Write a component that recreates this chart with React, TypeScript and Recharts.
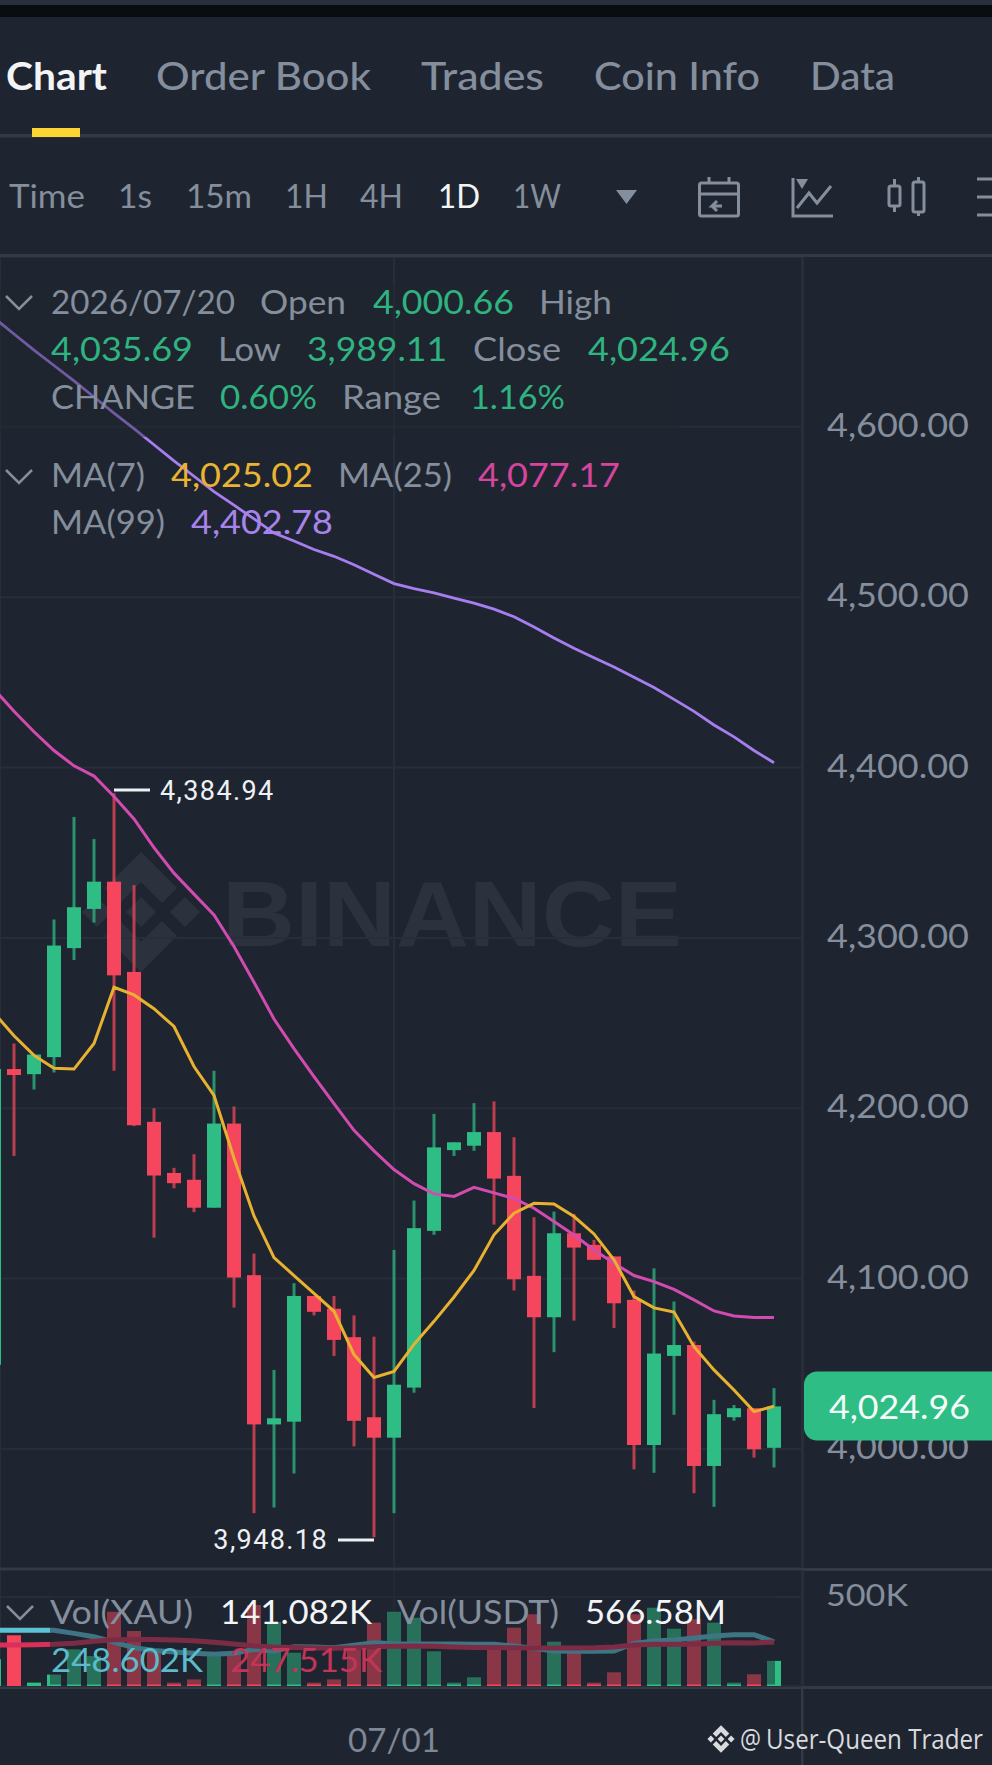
import React from "react";
import { ComposedChart, Bar, Line, XAxis, YAxis, CartesianGrid, ReferenceLine, Cell } from "recharts";

const opens = [4049.4,4223,4220,4230,4294,4317,4333,4280,4192,4162,4158,4141.6,4191,4102,4014.4,4016,4089.8,4082.3,4065.6,4018.6,4006.6,4036,4128,4175.4,4178,4186,4160.3,4101.6,4077.3,4126.6,4119.8,4113,4087.5,4002.3,4054.6,4061,3990,4018.6,4023.9,4000.66];
const highs = [4223,4238,4231.5,4310.8,4371,4358,4384.94,4331,4200,4165,4173,4222,4201,4114.7,4046.4,4097.3,4089.8,4089.8,4078.4,4065.9,4116.8,4145.8,4196.7,4180,4203,4204,4183,4136,4139.3,4138,4122.7,4113,4093,4106,4086.5,4063,4028.8,4025.8,4023.9,4035.69];
const lows = [4049.4,4172,4211,4221,4287,4309,4222,4189.5,4124,4153,4139,4141.6,4083,3962.3,3965.6,3985.6,4078.4,4054.5,4001.5,3948.18,3962.3,4033,4125.7,4172,4175,4131.7,4093,4024,4056.8,4075.3,4111,4071,3988,3986,4020,3974,3966,4016.6,3994.9,3989.11];
const closes = [4223,4219.5,4231.5,4295.5,4318,4333,4278,4190,4160.5,4156,4141.6,4191,4100.6,4014.4,4018,4089.8,4080.5,4064,4016.5,4006.6,4037.7,4129.6,4177,4180,4186,4158.7,4099.6,4077.3,4126.6,4118.2,4111,4085.5,4002.3,4056,4061,3990,4020.4,4023.9,3999.8,4024.96];
const ma7 = [4256,4242.5,4231,4223.4,4223,4238,4271,4266.5,4258.4,4248,4224.5,4207.5,4170.7,4136.8,4112.3,4101.8,4091.3,4080.8,4055.4,4041.9,4045.5,4061.4,4074.9,4089.2,4104.8,4125.7,4138.4,4144.2,4143.8,4136.4,4126.2,4111,4089.4,4082.8,4080.4,4060,4046.4,4034.6,4021.9,4025.02];
const ma25 = [4446,4433,4421,4410,4401,4395,4383,4369.8,4353,4338,4325.7,4313.5,4295,4274,4252.4,4235,4218.6,4202.7,4187,4175,4164,4155.7,4149.7,4148.2,4153.6,4150.3,4147,4141.3,4133.5,4125.6,4116.8,4109,4101.8,4098.2,4093.7,4087.5,4081,4078,4077.1,4077.17];
const ma99 = [4664,4654.5,4645,4636,4627,4617.5,4608,4599,4589.5,4580,4571,4562,4554,4546,4537.6,4533,4528,4524,4519,4513.5,4508,4505,4502.5,4499.5,4496.5,4493,4488.5,4482.5,4476,4470,4464.5,4459,4453,4447,4440,4433,4425,4418,4410,4402.78];
const volumes = [150,285,19,64,206,168,418,309,206,19,37,168,187,455,360,187,19,37,206,356,418,384,195,19,49,206,328,403,249,187,19,77,403,440,322,375,356,19,66,141.082];
const volMa7 = [314.6,312.7,312.7,312.7,295.9,277.2,247,215,200,191,183.5,178,183.5,206,196.6,221,219,215,228.5,243.4,237.8,236,236,236,234,234,224.7,211.6,196.6,194.8,194.8,196.6,239.7,252.8,258.4,269.7,280.9,288.4,288.4,248.6];
const volMa25 = [230.3,230.3,232,234,239.7,251,260.3,262,262,258.4,254.7,245.3,236,224.7,219,217,213.5,211.6,215,221,222.8,224.7,222.8,219,217,217,215,213.5,213.5,213.5,215,219,230.3,234,234,234,239.7,243.4,241.6,247.515];
const priceTicks = [4000,4100,4200,4300,4400,4500,4600];
const volTicks = [500];
const dateTicks = [20];
const dateLabels = ["07/01"];

const GREEN = "#2ebd85";
const RED = "#f6465d";
const BG = "#1f2530";
const GRID = "#282e39";
const LINE = "#333a46";
const GRAY = "#848e9c";
const TXTGREEN = "#2fb380";

const priceData = opens.map((o, i) => ({ i, o, c: closes[i], h: highs[i], l: lows[i], range: [lows[i], highs[i]], ma7: ma7[i], ma25: ma25[i], ma99: ma99[i] }));
const volData = volumes.map((v, i) => ({ i, v, up: closes[i] >= opens[i], m7: volMa7[i], m25: volMa25[i] }));
const FONT = "Lato, sans-serif";

function Candle(props: any) {
  const { x, y, width, height, payload } = props;
  const top = Math.min(y, y + height);
  const h = Math.abs(height);
  const span = payload.h - payload.l;
  const up = payload.c >= payload.o;
  const color = up ? GREEN : RED;
  const bt = top + ((payload.h - Math.max(payload.o, payload.c)) / span) * h;
  const bb = top + ((payload.h - Math.min(payload.o, payload.c)) / span) * h;
  return (
    <g>
      <rect x={x + width / 2 - 1.5} y={top} width={3} height={h} fill={color} opacity={0.72} />
      <rect x={x} y={bt} width={width} height={Math.max(bb - bt, 2)} fill={color} />
    </g>
  );
}

function T({ x, y, w, c = GRAY, s = 33, t, fw = 400, f = FONT }: any) {
  return (
    <text x={x} y={y - 1} textLength={w} lengthAdjust="spacingAndGlyphs" dominantBaseline="central" fontFamily={f} fontSize={s} fontWeight={fw} fill={c}>
      {t}
    </text>
  );
}

function PriceTick(props: any) {
  const { y, payload } = props;
  const txt = payload.value.toLocaleString("en-US", { minimumFractionDigits: 2 });
  return <T x={827} y={y - 2} w={142} t={txt} s={33} />;
}

function VolTick(props: any) {
  const { y, payload } = props;
  return <T x={826} y={y - 2} w={82} t={`${payload.value}K`} s={31} />;
}

function DateTick(props: any) {
  const { x, payload } = props;
  return <T x={x - 46} y={1740 - 1570} w={92} t={dateLabels[dateTicks.indexOf(payload.value)]} s={32} c="#7f8896" />;
}

function Badge(props: any) {
  const { viewBox } = props;
  const cy = viewBox.y;
  return (
    <g>
      <rect x={804} y={cy - 35} width={200} height={69} rx={13} fill={GREEN} />
      <T x={829} y={cy} w={141} t="4,024.96" c="#f4fbf8" s={33} />
    </g>
  );
}

function Chevron({ x, y }: any) {
  return <polyline points={`${x},${y} ${x + 13},${y + 13} ${x + 26},${y}`} fill="none" stroke={GRAY} strokeWidth={2.5} />;
}

function Diamond({ cx, cy, r, fill }: any) {
  return <polygon points={`${cx - r},${cy} ${cx},${cy - r} ${cx + r},${cy} ${cx},${cy + r}`} fill={fill} />;
}

function Logo({ cx, cy, k, fill }: any) {
  const p = (a: number[]) => a.map((v, i) => (i % 2 ? cy + v * k : cx + v * k)).join(" ");
  return (
    <g fill={fill}>
      <polygon points={p([0, -60, 36, -24, 21, -9, 0, -30, -21, -9, -36, -24])} />
      <polygon points={p([0, 60, 36, 24, 21, 9, 0, 30, -21, 9, -36, 24])} />
      <Diamond cx={cx} cy={cy} r={15 * k} fill={fill} />
      <Diamond cx={cx - 44 * k} cy={cy} r={15 * k} fill={fill} />
      <Diamond cx={cx + 44 * k} cy={cy} r={15 * k} fill={fill} />
    </g>
  );
}

const annotationStyle = { letterSpacing: 1.4 };

export default function App() {
  return (
    <div style={{ position: "absolute", left: 0, top: 0, width: 992, height: 1765, overflow: "hidden", background: BG }}>
      {/* background layer */}
      <svg width={992} height={1765} style={{ position: "absolute", left: 0, top: 0 }}>
        <rect x={0} y={0} width={992} height={5} fill="#2a303b" />
        <rect x={0} y={5} width={992} height={12} fill="#0a0d10" />
        <rect x={0} y={134} width={992} height={3.5} fill={LINE} />
        <rect x={0} y={254} width={992} height={3} fill={LINE} />
        <rect x={0} y={1568} width={992} height={3} fill={LINE} />
        <rect x={0} y={1686} width={992} height={3} fill={LINE} />
        <rect x={801} y={257} width={2.5} height={1508} fill={LINE} />
        <Logo cx={141} cy={912} k={1} fill="#2c323d" />
        <text x={222} y={946} textLength={460} lengthAdjust="spacingAndGlyphs" fontFamily="Liberation Sans" fontWeight={700} fontSize={92} fill="#2c323d">BINANCE</text>
      </svg>

      {/* price pane */}
      <div style={{ position: "absolute", left: 0, top: 257 }}>
        <ComposedChart width={992} height={1311} data={priceData} margin={{ top: 0, right: 0, bottom: 0, left: 0 }}>
          <CartesianGrid stroke={GRID} strokeWidth={2} horizontal vertical />
          <XAxis dataKey="i" type="number" domain={[0.3, 40.4]} allowDataOverflow ticks={dateTicks} hide />
          <YAxis orientation="right" width={190} type="number" domain={[3930.1, 4699.7]} allowDataOverflow ticks={priceTicks} axisLine={false} tickLine={false} tick={PriceTick} />
          <Bar dataKey="range" barSize={14} shape={Candle} isAnimationActive={false} />
          <Line dataKey="ma99" stroke="#a67ef0" strokeWidth={2.8} dot={false} isAnimationActive={false} />
          <Line dataKey="ma25" stroke="#d24bb0" strokeWidth={3} dot={false} isAnimationActive={false} />
          <Line dataKey="ma7" stroke="#e8b230" strokeWidth={3} dot={false} isAnimationActive={false} />
          <ReferenceLine segment={[{ x: 6, y: 4386.8 }, { x: 7.8, y: 4386.8 }]} stroke="#eef0f3" strokeWidth={3} label={{ value: "4,384.94", position: "right", offset: 10, fill: "#eef0f3", fontSize: 27, fontFamily: "Roboto", style: annotationStyle }} />
          <ReferenceLine segment={[{ x: 17.2, y: 3946.6 }, { x: 19, y: 3946.6 }]} stroke="#eef0f3" strokeWidth={3} label={{ value: "3,948.18", position: "left", offset: 10, fill: "#eef0f3", fontSize: 27, fontFamily: "Roboto", style: annotationStyle }} />
        </ComposedChart>
      </div>

      {/* volume pane */}
      <div style={{ position: "absolute", left: 0, top: 1570 }}>
        <ComposedChart width={992} height={195} data={volData} margin={{ top: 0, right: 0, bottom: 0, left: 0 }}>
          <CartesianGrid stroke={GRID} strokeWidth={2} horizontal vertical />
          <XAxis dataKey="i" type="number" domain={[0.3, 40.4]} allowDataOverflow ticks={dateTicks} height={79} axisLine={false} tickLine={false} tick={DateTick} />
          <YAxis orientation="right" width={190} type="number" domain={[0, 652]} ticks={volTicks} axisLine={false} tickLine={false} tick={VolTick} />
          <Bar dataKey="v" barSize={14} isAnimationActive={false}>
            {volData.map((d) => (
              <Cell key={d.i} fill={d.up ? GREEN : RED} />
            ))}
          </Bar>
          <Line dataKey="m7" stroke="#5cc3d6" strokeWidth={5} dot={false} isAnimationActive={false} />
          <Line dataKey="m25" stroke="#d9305a" strokeWidth={5} dot={false} isAnimationActive={false} />
        </ComposedChart>
      </div>

      {/* foreground layer */}
      <svg width={992} height={1765} style={{ position: "absolute", left: 0, top: 0 }}>
        <rect x={0} y={285} width={680} height={152} fill={BG} opacity={0.4} />
        <rect x={50} y={1572} width={725} height={112.5} fill={BG} opacity={0.5} />

        {/* tabs */}
        <T x={6} y={76} w={101} t="Chart" c="#f2f4f6" s={38} fw={700} />
        <T x={156} y={76} w={215} t="Order Book" s={38} fw={500} />
        <T x={421} y={76} w={123} t="Trades" s={38} fw={500} />
        <T x={594} y={76} w={166} t="Coin Info" s={38} fw={500} />
        <T x={810} y={76} w={85} t="Data" s={38} fw={500} />
        <rect x={32} y={128} width={48} height={9} fill="#fcd535" />

        {/* intervals */}
        <T x={9} y={196} w={76} t="Time" />
        <T x={118} y={196} w={34} t="1s" />
        <T x={186} y={196} w={66} t="15m" />
        <T x={285} y={196} w={43} t="1H" />
        <T x={360} y={196} w={43} t="4H" />
        <T x={438} y={196} w={42} t="1D" c="#f2f4f6" />
        <T x={513} y={196} w={48} t="1W" />
        <polygon points="616,190 637,190 626.5,204" fill={GRAY} />
        <polygon points="796,179 808,179 802,189" fill={GRAY} />
        <g fill="none" stroke={GRAY} strokeWidth={3}>
          <rect x={699.5} y={183} width={39} height={33} rx={2} />
          <line x1={699} y1={194} x2={739} y2={194} />
          <line x1={709} y1={177} x2={709} y2={184} />
          <line x1={729} y1={177} x2={729} y2={184} />
          <polyline points="722,206 712,206 717,201 712,206 717,211" />
          <polyline points="793,178 793,216 833,216" />
          <polyline points="797,208 809,193 817,203 831,186" />
          <rect x={889} y={186} width={11} height={20} rx={2} />
          <rect x={913} y={182} width={11} height={30} rx={2} />
          <line x1={894.5} y1={179} x2={894.5} y2={186} />
          <line x1={894.5} y1={206} x2={894.5} y2={212} />
          <line x1={918.5} y1={177} x2={918.5} y2={182} />
          <line x1={918.5} y1={212} x2={918.5} y2={216} />
          <line x1={977} y1={179} x2={992} y2={179} />
          <line x1={977} y1={197} x2={992} y2={197} />
          <line x1={977} y1={215} x2={992} y2={215} />
        </g>

        {/* OHLC legend */}
        <Chevron x={6} y={296} />
        <T x={51} y={302} w={184} t="2026/07/20" />
        <T x={260} y={302} w={86} t="Open" />
        <T x={373} y={302} w={141} t="4,000.66" c={TXTGREEN} />
        <T x={539} y={302} w={73} t="High" />
        <T x={51} y={349} w={142} t="4,035.69" c={TXTGREEN} />
        <T x={218} y={349} w={63} t="Low" />
        <T x={307} y={349} w={140} t="3,989.11" c={TXTGREEN} />
        <T x={473} y={349} w={88} t="Close" />
        <T x={588} y={349} w={142} t="4,024.96" c={TXTGREEN} />
        <T x={51} y={397} w={144} t="CHANGE" />
        <T x={220} y={397} w={97} t="0.60%" c={TXTGREEN} />
        <T x={342} y={397} w={99} t="Range" />
        <T x={470} y={397} w={95} t="1.16%" c={TXTGREEN} />
        <Chevron x={6} y={470} />
        <T x={51} y={475} w={94} t="MA(7)" />
        <T x={171} y={475} w={142} t="4,025.02" c="#e9b432" />
        <T x={338} y={475} w={114} t="MA(25)" />
        <T x={478} y={475} w={142} t="4,077.17" c="#d5459f" />
        <T x={51} y={522} w={114} t="MA(99)" />
        <T x={191} y={522} w={142} t="4,402.78" c="#a784ea" />

        {/* badge */}
        <Badge viewBox={{ y: 1406.5 }} />

        {/* volume legend */}
        <Chevron x={7} y={1606} />
        <T x={50} y={1612} w={143} t="Vol(XAU)" s={32} />
        <T x={220} y={1612} w={152} t="141.082K" s={32} c="#f2f4f6" />
        <T x={397} y={1612} w={162} t="Vol(USDT)" s={32} />
        <T x={585} y={1612} w={141} t="566.58M" s={32} c="#f2f4f6" />
        <T x={51} y={1660} w={152} t="248.602K" s={32} c="#5cbccb" />
        <T x={230} y={1660} w={152} t="247.515K" s={32} c="#c43459" />

        {/* footer */}
        <Logo cx={721} cy={1739} k={0.23} fill="#d8dade" />
        <T x={740} y={1739} w={21} t="@" s={27} c="#d8dade" f="Open Sans" />
        <T x={766} y={1739} w={217} t="User-Queen Trader" s={27} c="#d8dade" f="Open Sans" />
      </svg>
    </div>
  );
}
